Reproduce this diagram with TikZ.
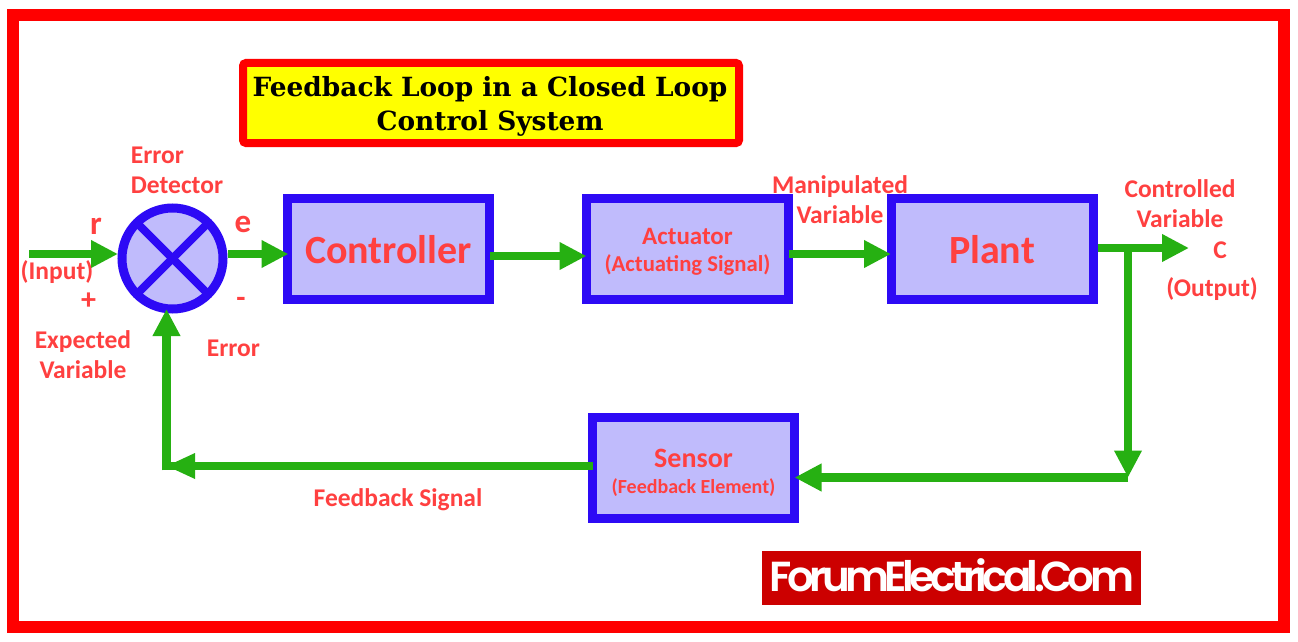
\documentclass[tikz,border=0pt]{standalone}
\usepackage{fontspec}
\setmainfont{Carlito}
\newfontfamily\titlefont{DejaVu Serif}
\newfontfamily\logofont[LetterSpace=-11]{Poppins SemiBold}
\usetikzlibrary{arrows.meta,calc}
\definecolor{frameRed}{RGB}{255,0,0}
\definecolor{labelRed}{RGB}{255,64,64}
\definecolor{boxBlue}{RGB}{45,10,245}
\definecolor{boxFill}{RGB}{192,187,252}
\definecolor{flowGreen}{RGB}{38,176,18}
\definecolor{logoRed}{RGB}{204,0,0}
\definecolor{titleYellow}{RGB}{255,255,0}
\newcommand{\fsz}[2]{\fontsize{#1}{#2}\selectfont}
\tikzset{
  block/.style={draw=boxBlue,fill=boxFill,line width=9pt,rectangle,outer sep=0pt,inner sep=0pt,
    minimum width=202pt,minimum height=101pt,align=center,text=labelRed,font=\bfseries},
  lab/.style={text=labelRed,font=\bfseries\fsz{25.5}{30},align=center,inner sep=0pt,outer sep=0pt},
  flow/.style={draw=flowGreen,line width=8.5pt,-{Triangle[length=27pt,width=26pt,fill=flowGreen]}},
  plainflow/.style={draw=flowGreen,line width=8.5pt},
}
\begin{document}
\begin{tikzpicture}[x=1pt,y=-1pt]
\useasboundingbox (0,0) rectangle (1298,642);
\fill[white] (0,0) rectangle (1298,642);
\node[draw=frameRed,line width=12pt,minimum width=1271pt,minimum height=612pt,inner sep=0pt,outer sep=0pt] (frame) at (648.5,321) {};
% title
\node[draw=frameRed,fill=titleYellow,line width=8pt,rounded corners=3pt,minimum width=496pt,minimum height=80pt,inner sep=0pt,outer sep=0pt] (title) at (491,103) {};
\node[inner sep=0pt,align=center,font=\titlefont\bfseries\fsz{26.4}{34}] (titletext) at (490,106) {Feedback Loop in a Closed Loop\\Control System};
% blocks
\node[block] (ctrl) at (388.5,249) {\fsz{40}{44}\rule{0pt}{29pt}Controller};
\node[block] (act) at (687.5,249) {\fsz{25}{30}\rule{0pt}{22pt}Actuator\\[9pt]\fsz{22.7}{26}(Actuating Signal)};
\node[block] (plant) at (992,249) {\fsz{40}{44}\rule{0pt}{29pt}Plant};
\node[block] (sens) at (693.5,468) {\fsz{28}{30}\rule{0pt}{28pt}Sensor\\[10pt]\fsz{20}{26}(Feedback Element)};
% summing junction
\node[draw=boxBlue,fill=boxFill,line width=9pt,circle,minimum size=101pt,inner sep=0pt,outer sep=0pt] (sum) at (172.5,258.5) {};
\draw[boxBlue,line width=8pt] (sum.north west) -- (sum.south east);
\draw[boxBlue,line width=8pt] (sum.north east) -- (sum.south west);
% connector points
\coordinate (inStart) at (29,254);
\coordinate (inEnd) at (118,254);
\coordinate (eStart) at (228,254);
\coordinate (outTip) at (1189,248);
\coordinate (branch) at (1128,248);
\coordinate (corner) at (1128,477.5);
\coordinate (fbCorner) at (166.5,466);
% connectors
\draw[flow] (inStart) -- (inEnd);
\draw[flow] (eStart) -- ([xshift=1pt]ctrl.west |- eStart);
\draw[flow] ([yshift=-7pt]ctrl.east) -- ([yshift=-7pt]act.west);
\draw[flow] ([yshift=-5pt]act.east) -- ([yshift=-5pt]plant.west);
\draw[flow] ([xshift=4.5pt]plant.east |- outTip) -- (outTip);
\draw[flow] (corner) -- (sens.east |- corner);
\draw[flow] (branch) -- (corner);
\draw[plainflow] (sens.west |- fbCorner) -- ($(fbCorner)+(-4.25,0)$);
\draw[flow] ($(fbCorner)+(0,4.25)$) -- (fbCorner |- sum.south) ;
\fill[flowGreen] (195,453) -- (167,466) -- (195,479) -- cycle;
% labels
\node[lab] (lerr) at (157.5,155.5) {Error};
\node[lab] (ldet) at (177,185.5) {Detector};
\node[lab,font=\bfseries\fsz{33}{30}] (lr) at (96,226) {r};
\node[lab,font=\bfseries\fsz{33}{30}] (le) at (243,224) {e};
\node[lab] (linp) at (57,272.5) {(Input)};
\node[lab,font=\bfseries\fsz{30}{30}] (lplus) at (88.5,301) {+};
\node[lab,font=\bfseries\fsz{30}{30}] (lminus) at (241,302) {-};
\node[lab] (lexp) at (83,355) {Expected\\Variable};
\node[lab] (lerror) at (233.5,348) {Error};
\node[lab] (lman) at (840,200) {Manipulated\\Variable};
\node[lab] (lctl) at (1180,204) {Controlled\\Variable};
\node[lab] (lc) at (1220,250) {C};
\node[lab] (lout) at (1212,289) {(Output)};
\node[lab] (lfb) at (398,500) {Feedback Signal};
% logo
\node[fill=logoRed,minimum width=379pt,minimum height=54pt,inner sep=0pt,outer sep=0pt] (logo) at (951.5,578) {};
\node[text=white,inner sep=0pt,font=\logofont\fsz{42}{44}] (logotext) at (952,575) {ForumElectrical.Com};
\end{tikzpicture}
\end{document}
